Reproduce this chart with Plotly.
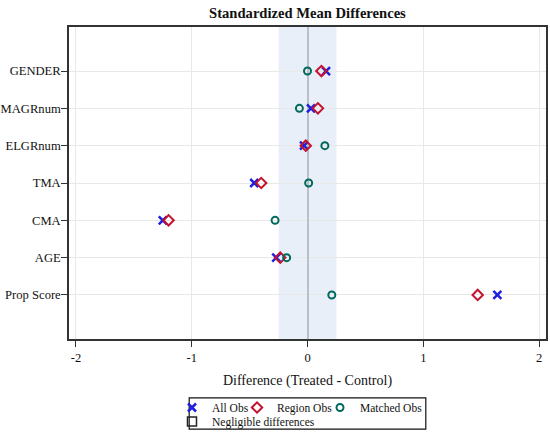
"""
standardized mean differences plot
"""
import plotly.graph_objects as go

# covariates, top to bottom as they appear on the chart
variables = ["GENDER", "MAGRnum", "ELGRnum", "TMA", "CMA", "AGE", "Prop Score"]

# standardized differences (treated - control)
all_obs = [0.16, 0.03, -0.03, -0.46, -1.25, -0.27, 1.64]
region_obs = [0.12, 0.09, -0.015, -0.40, -1.20, -0.235, 1.47]
matched_obs = [0.00, -0.07, 0.15, 0.01, -0.28, -0.18, 0.21]

# band of negligible differences
negligible = 0.25

x_ticks = [-2, -1, 0, 1, 2]

FONT = "Liberation Serif"
W, H = 550, 433


def legend_at(px, py):
    """One legend entry placed by pixel position in the page."""
    return dict(xref="container", yref="container", x=px / W, xanchor="left",
                y=1 - py / H, yanchor="top", orientation="h",
                bgcolor="rgba(0,0,0,0)", borderwidth=0, itemwidth=30,
                font=dict(family=FONT, size=11.5, color="#111111"))


fig = go.Figure()

fig.add_trace(go.Scatter(x=all_obs, y=variables, mode="markers", name="All Obs",
                         marker=dict(symbol="x-thin", size=8, line=dict(width=2.5, color="#1f1fe0")),
                         legend="legend"))
fig.add_trace(go.Scatter(x=region_obs, y=variables, mode="markers", name="Region Obs",
                         marker=dict(symbol="diamond-open", size=8, color="#c3132d",
                                     line=dict(width=2)),
                         legend="legend2"))
fig.add_trace(go.Scatter(x=matched_obs, y=variables, mode="markers", name="Matched Obs",
                         marker=dict(symbol="circle-open", size=7, color="#00695c",
                                     line=dict(width=2)),
                         legend="legend3"))
# legend only entry for the shaded band
fig.add_trace(go.Scatter(x=[None], y=[None], mode="markers", name="Negligible differences",
                         marker=dict(symbol="square-open", size=9, color="#222222",
                                     line=dict(width=1.5)),
                         legend="legend4"))

fig.add_shape(type="rect", xref="x", yref="paper", x0=-negligible, x1=negligible, y0=0, y1=1,
              fillcolor="#e9eff8", line_width=0, layer="below")

# box round the legend entries
fig.add_shape(type="rect", xref="paper", yref="paper", x0=0.252, x1=0.748, y0=-0.289, y1=-0.189,
              line=dict(color="#111111", width=1.2), fillcolor="rgba(0,0,0,0)")

fig.update_layout(
    width=W, height=H,
    margin=dict(l=69, r=4, t=27, b=94),
    paper_bgcolor="white", plot_bgcolor="white",
    font=dict(family=FONT, size=12, color="#111111"),
    title=dict(text="<b>Standardized Mean Differences</b>", x=0.559, xanchor="center",
               y=1 - 13 / H, yanchor="middle", font=dict(family=FONT, size=14.6, color="#111111")),
    showlegend=True,
    legend=legend_at(172, 393),
    legend2=legend_at(237, 393),
    legend3=legend_at(320, 393),
    legend4=legend_at(172, 407),
)

fig.update_xaxes(range=[-2.06, 2.06], tickvals=x_ticks, ticktext=[str(v) for v in x_ticks],
                 automargin=False, tickfont=dict(size=12.5),
                 showgrid=True, gridcolor="#e8e8e8", gridwidth=1,
                 zeroline=True, zerolinecolor="#b9c0c8", zerolinewidth=1.5,
                 showline=True, mirror=True, linecolor="#333333", linewidth=1.5,
                 ticks="outside", ticklen=6, tickwidth=1.2, tickcolor="#333333",
                 title=dict(text="Difference (Treated - Control)", standoff=11,
                            font=dict(family=FONT, size=14)))

fig.update_yaxes(type="category", categoryorder="array", categoryarray=variables[::-1],
                 range=[-1.18, len(variables) - 1 + 1.18], automargin=False,
                 ticklabelstandoff=-2, tickfont=dict(size=12.6),
                 showgrid=True, gridcolor="#e8e8e8", gridwidth=1,
                 showline=True, mirror=True, linecolor="#333333", linewidth=1.5,
                 ticks="outside", ticklen=6, tickwidth=1.2, tickcolor="#333333")

# the page's default body margin would push the figure 8px down and right
fig.write_html("out.html", config={"displayModeBar": False},
               post_script="document.body.style.margin = '0';")
